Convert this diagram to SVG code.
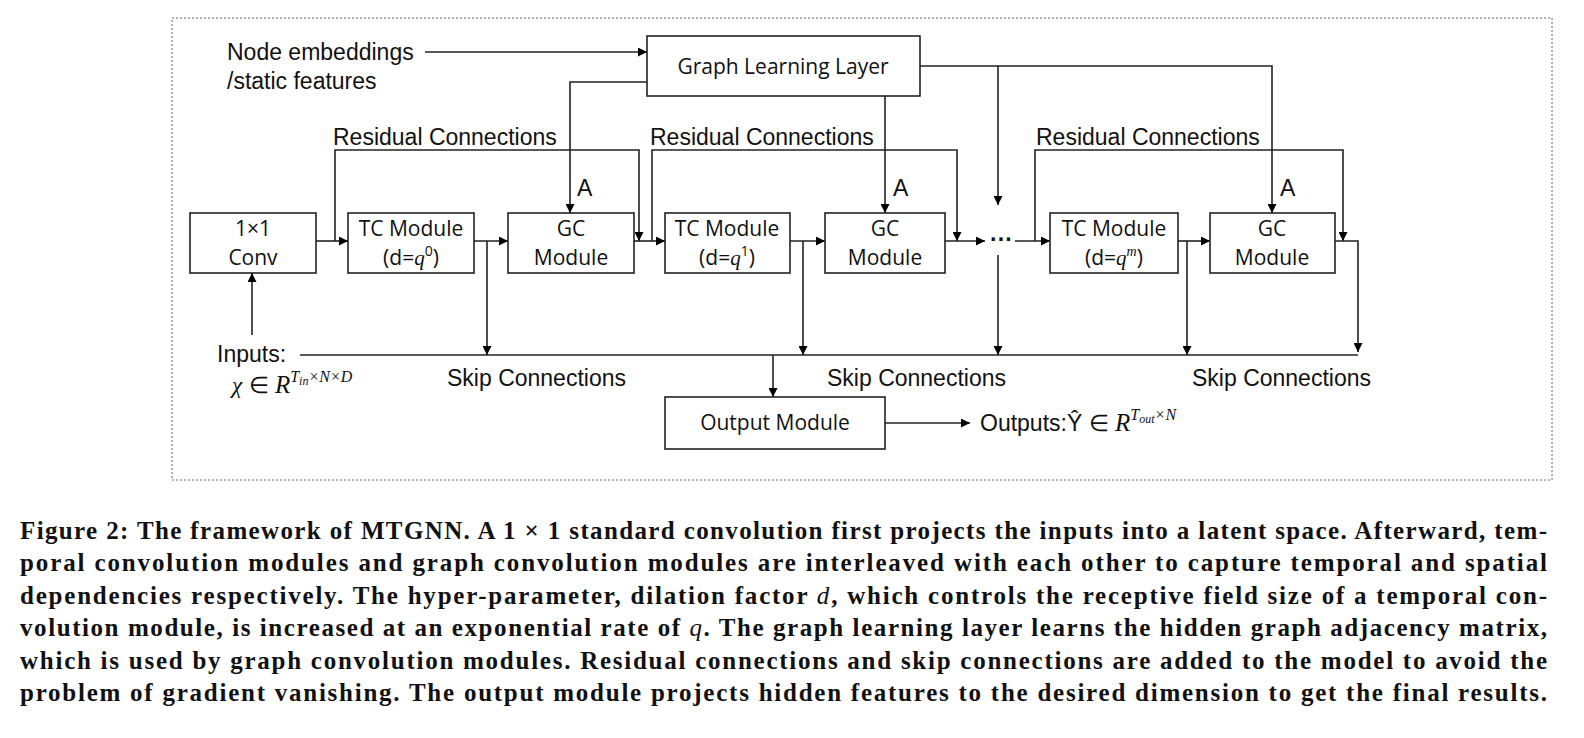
<svg xmlns="http://www.w3.org/2000/svg" width="1584" height="738" viewBox="0 0 1584 738">
<defs>
<marker id="ah" viewBox="0 0 10 10" refX="10" refY="5" markerWidth="9" markerHeight="9" markerUnits="userSpaceOnUse" orient="auto"><path d="M0,0L10,5L0,10z" fill="#000"/></marker>
<style>
.b{fill:#fff;stroke:#222;stroke-width:1.6}
.c{fill:none;stroke:#222;stroke-width:1.6}
.a{marker-end:url(#ah)}
.l{font-family:"Liberation Sans",Arial,sans-serif;font-size:23px;fill:#111}
.m{font-family:"Open Sans","Liberation Sans",sans-serif;font-size:21px;fill:#111;text-anchor:middle}
.mi{font-family:"Liberation Serif",serif;font-style:italic}
.cap{font-family:"Liberation Serif","Times New Roman",serif;font-weight:bold;font-size:25px;fill:#111}
</style>
</defs>
<rect width="1584" height="738" fill="#fff"/>
<rect x="172" y="18" width="1380" height="462" fill="none" stroke="#666" stroke-width="1" stroke-dasharray="2,2"/>
<g id="connectors">
<path class="c a" d="M425,52H647"/>
<path class="c a" d="M647,82H570V213"/>
<path class="c a" d="M885,96V213"/>
<path class="c a" d="M920,66H1272V213"/>
<path class="c a" d="M998,66V205"/>
<path class="c a" d="M316,241H348"/>
<path class="c a" d="M474,241H508"/>
<path class="c a" d="M634,241H665"/>
<path class="c a" d="M790,241H825"/>
<path class="c a" d="M945,241H985"/>
<path class="c a" d="M1015,241H1050"/>
<path class="c a" d="M1178,241H1210"/>
<path class="c a" d="M335,241V150H639V241"/>
<path class="c a" d="M652,241V150H957V241"/>
<path class="c a" d="M1035,241V150H1343V241"/>
<path class="c a" d="M1335,241H1358V352"/>
<path class="c a" d="M487,241V355"/>
<path class="c a" d="M803,241V355"/>
<path class="c a" d="M998,255V355"/>
<path class="c a" d="M1187,241V355"/>
<path class="c" d="M300,355H1358"/>
<path class="c a" d="M252,335V273"/>
<path class="c a" d="M773,355V397"/>
<path class="c a" d="M885,423H970"/>
</g>
<g id="labels">
<text class="l" x="227" y="60">Node embeddings</text>
<text class="l" x="227" y="89">/static features</text>
<text class="l" x="333" y="145">Residual Connections</text>
<text class="l" x="650" y="145">Residual Connections</text>
<text class="l" x="1036" y="145">Residual Connections</text>
<text class="l" x="577" y="196">A</text>
<text class="l" x="893" y="196">A</text>
<text class="l" x="1280" y="196">A</text>
<text class="l" x="990" y="247" font-weight="bold">···</text>
<text class="l" x="217" y="362">Inputs:</text>
<text class="l" x="232" y="393"><tspan class="mi">χ</tspan> ∈ <tspan class="mi" font-size="25">R</tspan><tspan class="mi" font-size="16" dy="-11">T</tspan><tspan class="mi" font-size="12" dy="3">in</tspan><tspan class="mi" font-size="16" dy="-3">×N×D</tspan></text>
<text class="l" x="447" y="386">Skip Connections</text>
<text class="l" x="827" y="386">Skip Connections</text>
<text class="l" x="1192" y="386">Skip Connections</text>
<text class="l" x="980" y="431">Outputs:Ŷ ∈ <tspan class="mi" font-size="25">R</tspan><tspan class="mi" font-size="16" dy="-11">T</tspan><tspan class="mi" font-size="12" dy="3">out</tspan><tspan class="mi" font-size="16" dy="-3">×N</tspan></text>
</g>
<g id="gll"><rect class="b" x="647" y="36" width="273" height="60"/><text class="m" x="783" y="74">Graph Learning Layer</text></g>
<g id="conv"><rect class="b" x="190" y="213" width="126" height="60"/><text class="m" x="253" y="236">1×1</text><text class="m" x="253" y="265">Conv</text></g>
<g id="tc0"><rect class="b" x="348" y="213" width="126" height="60"/><text class="m" x="411" y="236">TC Module</text><text class="m" x="411" y="265">(d=<tspan class="mi">q</tspan><tspan font-size="14" dy="-9">0</tspan><tspan dy="9">)</tspan></text></g>
<g id="gc0"><rect class="b" x="508" y="213" width="126" height="60"/><text class="m" x="571" y="236">GC</text><text class="m" x="571" y="265">Module</text></g>
<g id="tc1"><rect class="b" x="665" y="213" width="125" height="60"/><text class="m" x="727" y="236">TC Module</text><text class="m" x="727" y="265">(d=<tspan class="mi">q</tspan><tspan font-size="14" dy="-9">1</tspan><tspan dy="9">)</tspan></text></g>
<g id="gc1"><rect class="b" x="825" y="213" width="120" height="60"/><text class="m" x="885" y="236">GC</text><text class="m" x="885" y="265">Module</text></g>
<g id="tcm"><rect class="b" x="1050" y="213" width="128" height="60"/><text class="m" x="1114" y="236">TC Module</text><text class="m" x="1114" y="265">(d=<tspan class="mi">q</tspan><tspan class="mi" font-size="14" dy="-9">m</tspan><tspan dy="9">)</tspan></text></g>
<g id="gc2"><rect class="b" x="1210" y="213" width="125" height="60"/><text class="m" x="1272" y="236">GC</text><text class="m" x="1272" y="265">Module</text></g>
<g id="out"><rect class="b" x="665" y="397" width="220" height="52"/><text class="m" x="775" y="430">Output Module</text></g>
<g id="caption">
<text class="cap" x="20" y="539" textLength="1527" lengthAdjust="spacing">Figure 2: The framework of MTGNN. A 1 × 1 standard convolution first projects the inputs into a latent space. Afterward, tem-</text>
<text class="cap" x="20" y="571" textLength="1527" lengthAdjust="spacing">poral convolution modules and graph convolution modules are interleaved with each other to capture temporal and spatial</text>
<text class="cap" x="20" y="604" textLength="1527" lengthAdjust="spacing">dependencies respectively. The hyper-parameter, dilation factor <tspan font-style="italic" font-weight="normal">d</tspan>, which controls the receptive field size of a temporal con-</text>
<text class="cap" x="20" y="636" textLength="1527" lengthAdjust="spacing">volution module, is increased at an exponential rate of <tspan font-style="italic" font-weight="normal">q</tspan>. The graph learning layer learns the hidden graph adjacency matrix,</text>
<text class="cap" x="20" y="669" textLength="1527" lengthAdjust="spacing">which is used by graph convolution modules. Residual connections and skip connections are added to the model to avoid the</text>
<text class="cap" x="20" y="701" textLength="1527" lengthAdjust="spacing">problem of gradient vanishing. The output module projects hidden features to the desired dimension to get the final results.</text>
</g>
</svg>
